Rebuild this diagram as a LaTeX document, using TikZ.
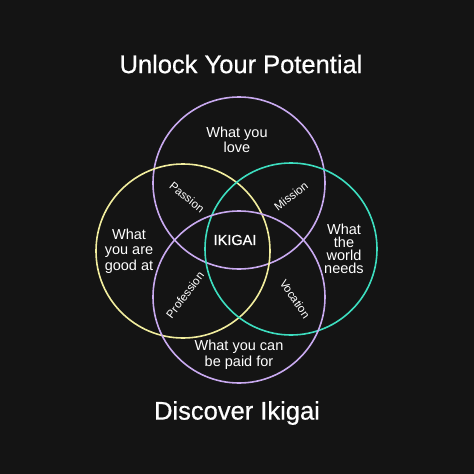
\documentclass[tikz,border=0pt]{standalone}
\usepackage{fontspec}
\setmainfont{Liberation Sans}
\newfontfamily\medfont[FakeBold=0.6]{Liberation Sans}
\definecolor{bgdark}{HTML}{141414}
\definecolor{lavender}{HTML}{C9AAF0}
\definecolor{paleyellow}{HTML}{F2EE9E}
\definecolor{aqua}{HTML}{3DDEC0}
\tikzset{
  ring/.style={line width=1.6pt},
  title/.style={text=white,font=\medfont\fontsize{25.5}{28}\selectfont},
  area/.style={text=white,align=center,font=\fontsize{14.5}{15.5}\selectfont},
  overlap/.style={text=white,font=\fontsize{11.5}{13}\selectfont,inner sep=0pt}
}
\begin{document}
\begin{tikzpicture}[x=1pt,y=-1pt]
  \fill[bgdark] (0,0) rectangle (474,474);
  \useasboundingbox (0,0) rectangle (474,474);
  % the four circles
  \draw[ring,lavender]   (239,183) circle (86);
  \draw[ring,paleyellow] (183,251) circle (87);
  \draw[ring,aqua]       (291,249) circle (86);
  \draw[ring,lavender]   (239,297) circle (86);
  % headings
  \node[title] (head) at (241,64) {Unlock Your Potential};
  \node[title] (foot) at (237,413) {Discover Ikigai};
  % areas
  \node[area] (love)  at (237,140) {What you\\love};
  \node[area] (good)  at (129,251) {What\\you are\\good at};
  \node[area,font=\fontsize{14.5}{12.8}\selectfont] (world) at (344,249) {What\\the\\world\\needs};
  \node[area,font=\fontsize{14.5}{16}\selectfont] (paid)  at (239,355) {What you can\\be paid for};
  \node[area,font=\medfont\fontsize{14.5}{16}\selectfont] (ikigai) at (235,240) {IKIGAI};
  % overlaps
  \node[overlap,rotate=-39] (passion)    at (187,197) {Passion};
  \node[overlap,rotate=38]  (mission)    at (291,196) {Mission};
  \node[overlap,rotate=53]  (profession) at (185,295) {Profession};
  \node[overlap,rotate=-56] (vocation)   at (295,299) {Vocation};
\end{tikzpicture}
\end{document}
